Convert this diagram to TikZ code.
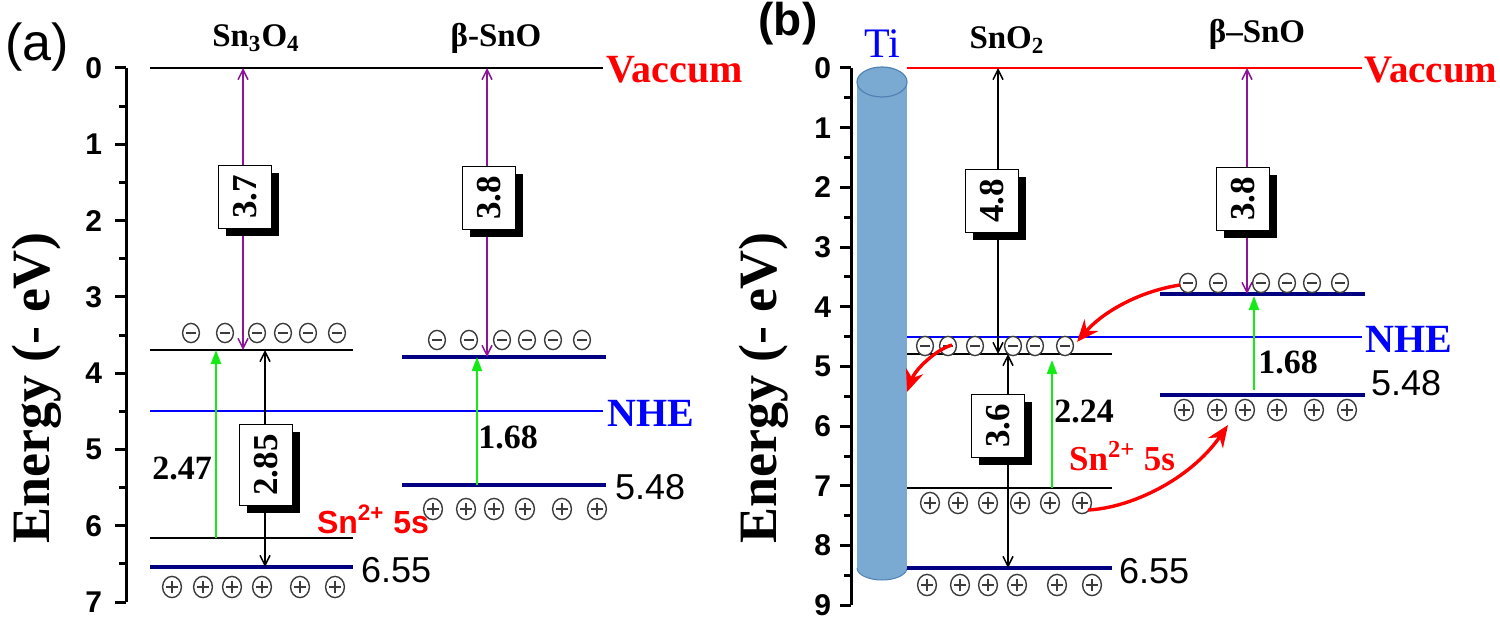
\documentclass[tikz,border=0pt]{standalone}
\usepackage{fontspec}
\setmainfont{Liberation Serif}
\newfontfamily\arial{Liberation Sans}
\usetikzlibrary{arrows.meta,shadows}
\definecolor{navy}{RGB}{0,0,128}
\definecolor{purp}{RGB}{140,20,150}
\definecolor{grn}{RGB}{20,235,20}
\definecolor{tiblue}{RGB}{122,170,210}
\definecolor{tiedge}{RGB}{80,130,180}
\definecolor{symgray}{RGB}{60,60,60}
\tikzset{
  blacklvl/.style={black, line width=1.3pt},
  navylvl/.style={navy, line width=1.6pt},
  reflvl/.style={line width=1pt},
  dblarrow/.style={line width=0.75pt, {Straight Barb[length=5pt,width=5pt]}-{Straight Barb[length=5pt,width=5pt]}},
  greenarrow/.style={grn, line width=1pt, -{Triangle[length=7pt,width=5pt]}},
  redarrow/.style={red, line width=1.7pt, -{Stealth[length=11pt,width=9pt]}},
  numbox/.style={draw, fill=white, line width=0.4pt, font=\bfseries\fontsize{17.5}{17.5}\selectfont,
    inner xsep=3pt, inner ysep=5pt, minimum width=26.5pt,
    drop shadow={shadow xshift=3.8pt, shadow yshift=-3.8pt, fill=black, opacity=1}},
  ticklbl/.style={anchor=east, font=\arial\bfseries\fontsize{15}{15}\selectfont},
  axislbl/.style={rotate=90, font=\bfseries\fontsize{27}{27}\selectfont},
  matlbl/.style={font=\bfseries\fontsize{16.5}{17}\selectfont},
  reflbl/.style={anchor=west, inner sep=0pt, font=\bfseries\fontsize{20}{20}\selectfont},
  vallbl/.style={anchor=west, font=\arial\fontsize{18}{18}\selectfont},
  gaplbl/.style={font=\bfseries\fontsize{17}{17}\selectfont},
  elec/.pic={\draw[symgray, line width=0.7pt, fill=white] (0,0) ellipse [x radius=4.2pt, y radius=4.8pt];
             \draw[symgray, line width=0.7pt] (-2.5pt,0) -- (2.5pt,0);},
  hole/.pic={\draw[symgray, line width=0.7pt, fill=white] (0,0) ellipse [x radius=4.7pt, y radius=5.3pt];
             \draw[symgray, line width=0.7pt] (-3pt,0) -- (3pt,0) (0,-3.2pt) -- (0,3.2pt);},
}
\begin{document}
\begin{tikzpicture}[x=0.5pt, y=-0.5pt]
\useasboundingbox (0,0) rectangle (1500,626);

% ================= panel (a) =================
\node[font=\arial\fontsize{26}{26}\selectfont] (la) at (37,47) {(a)};
\draw[line width=1.5pt] (126,68) -- (126,602);
\foreach \i in {0,...,7}{
  \pgfmathsetmacro\yy{68+76.3*\i}
  \draw[line width=1.5pt] (115,\yy) -- (126,\yy);
  \node[ticklbl] (ta\i) at (109,\yy) {\i};
}
\foreach \i in {0,...,6}{
  \pgfmathsetmacro\yy{68+76.3*(\i+0.5)}
  \draw[line width=1.5pt] (119,\yy) -- (126,\yy);
}
\node[axislbl] (ea) at (37,388) {Energy (- eV)};

\node[matlbl] (m1) at (256,38) {Sn\textsubscript{3}O\textsubscript{4}};
\node[matlbl] (m2) at (496,38) {β-SnO};

% levels
\coordinate (av0) at (150,68);   \coordinate (av1) at (603,68);
\coordinate (an0) at (150,411);  \coordinate (an1) at (603,411);
\coordinate (s1c0) at (150,350); \coordinate (s1c1) at (353,350);
\coordinate (s1s0) at (150,538); \coordinate (s1s1) at (353,538);
\coordinate (s1v0) at (150,567); \coordinate (s1v1) at (353,567);
\coordinate (b1c0) at (402,357); \coordinate (b1c1) at (606,357);
\coordinate (b1v0) at (402,485); \coordinate (b1v1) at (606,485);
\draw[reflvl] (av0) -- (av1);
\draw[reflvl, blue] (an0) -- (an1);
\draw[blacklvl] (s1c0) -- (s1c1);
\draw[blacklvl] (s1s0) -- (s1s1);
\draw[navylvl] (s1v0) -- (s1v1);
\draw[navylvl] (b1c0) -- (b1c1);
\draw[navylvl] (b1v0) -- (b1v1);

\node[reflbl, red] (vaca) at (606,70) {Vaccum};
\node[reflbl, blue] (nhea) at (607,413) {NHE};
\node[vallbl] (v655a) at (354,570) {6.55};
\node[vallbl] (v548a) at (608,487) {5.48};

% arrows
\coordinate (p1t) at (243,68);  \coordinate (p1b) at (243,350);
\coordinate (p2t) at (487,68);  \coordinate (p2b) at (487,357);
\coordinate (k1t) at (265,350); \coordinate (k1b) at (265,567);
\coordinate (g1t) at (216,350); \coordinate (g1b) at (216,538);
\coordinate (g2t) at (477,357); \coordinate (g2b) at (477,485);
\draw[dblarrow, purp] (p1b) -- (p1t);
\draw[dblarrow, purp] (p2b) -- (p2t);
\draw[dblarrow] (k1b) -- (k1t);
\draw[greenarrow] (g1b) -- (g1t);
\draw[greenarrow] (g2b) -- (g2t);

\node[numbox] (box37) at (245,197) {\rotatebox{90}{3.7}};
\node[numbox] (box285) at (266,465) {\rotatebox{90}{2.85}};
\node[numbox] (box38a) at (489,198) {\rotatebox{90}{3.8}};

\node[gaplbl] (g247) at (182,468) {2.47};
\node[gaplbl] (g168a) at (508,437) {1.68};
\node[anchor=base west, red, font=\arial\bfseries\fontsize{16}{16}\selectfont] (sn5a) at (310,533) {Sn\textsuperscript{2+} 5s};

% carriers
\foreach \x in {191,225,257,283,308,337} \pic at (\x,333) {elec};
\foreach \x in {172,203,232,262,300,335} \pic at (\x,587) {hole};
\foreach \x in {437,469,502,527,553,582} \pic at (\x,340) {elec};
\foreach \x in {433,466,494,525,562,597} \pic at (\x,509) {hole};

% ================= panel (b) =================
\node[font=\arial\bfseries\fontsize{23}{23}\selectfont] (lb) at (788,24) {(b)};
\draw[line width=1.5pt] (851,68) -- (851,605);
\foreach \i in {0,...,9}{
  \pgfmathsetmacro\yy{68+59.7*\i}
  \draw[line width=1.5pt] (840,\yy) -- (851,\yy);
  \node[ticklbl] (tb\i) at (838,\yy) {\i};
}
\foreach \i in {0,...,8}{
  \pgfmathsetmacro\yy{68+59.7*(\i+0.5)}
  \draw[line width=1.5pt] (844,\yy) -- (851,\yy);
}
\node[axislbl] (eb) at (764,388) {Energy (- eV)};

% Ti cylinder
\fill[tiblue] (857,82) rectangle (907,568);
\fill[tiblue] (857,568) arc[start angle=180, end angle=360, x radius=12.5pt, y radius=6pt];
\draw[tiedge, line width=0.5pt] (857,568) arc[start angle=180, end angle=360, x radius=12.5pt, y radius=6pt];
\draw[tiedge, line width=0.6pt, fill=tiblue] (882,82) ellipse [x radius=12.5pt, y radius=7.5pt];
\node[blue, font=\fontsize{21}{21}\selectfont] (ti) at (882,44) {Ti};

\node[matlbl] (m3) at (1007,40) {SnO\textsubscript{2}};
\node[matlbl] (m4) at (1257,34) {β–SnO};

\coordinate (bv0) at (907,68);   \coordinate (bv1) at (1362,68);
\coordinate (bn0) at (907,337);  \coordinate (bn1) at (1362,337);
\coordinate (s2c0) at (907,354); \coordinate (s2c1) at (1112,354);
\coordinate (s2s0) at (907,488); \coordinate (s2s1) at (1112,488);
\coordinate (s2v0) at (907,568); \coordinate (s2v1) at (1112,568);
\coordinate (b2c0) at (1160,294); \coordinate (b2c1) at (1365,294);
\coordinate (b2v0) at (1160,395); \coordinate (b2v1) at (1365,395);
\draw[reflvl, red] (bv0) -- (bv1);
\draw[blue, line width=1.4pt] (bn0) -- (bn1);
\draw[blacklvl] (s2c0) -- (s2c1);
\draw[blacklvl] (s2s0) -- (s2s1);
\draw[navylvl] (s2v0) -- (s2v1);
\draw[navylvl] (b2c0) -- (b2c1);
\draw[navylvl] (b2v0) -- (b2v1);

\node[reflbl, red, font=\bfseries\fontsize{19.5}{20}\selectfont] (vacb) at (1364,70) {Vaccum};
\node[reflbl, blue] (nheb) at (1365,339) {NHE};
\node[vallbl] (v655b) at (1112,571) {6.55};
\node[vallbl] (v548b) at (1364,383) {5.48};

\coordinate (k2t) at (998,68);   \coordinate (k2b) at (998,354);
\coordinate (k3t) at (1008,354); \coordinate (k3b) at (1008,568);
\coordinate (p3t) at (1247,68);  \coordinate (p3b) at (1247,294);
\coordinate (g3t) at (1052,360); \coordinate (g3b) at (1052,488);
\coordinate (g4t) at (1254,296); \coordinate (g4b) at (1254,390);
\draw[dblarrow] (k2b) -- (k2t);
\draw[dblarrow] (k3b) -- (k3t);
\draw[dblarrow, purp] (p3b) -- (p3t);
\draw[greenarrow] (g3b) -- (g3t);
\draw[greenarrow] (g4b) -- (g4t);

\node[numbox] (box48) at (992,201) {\rotatebox{90}{4.8}};
\node[numbox] (box36) at (998,426) {\rotatebox{90}{3.6}};
\node[numbox] (box38b) at (1243,199) {\rotatebox{90}{3.8}};

\node[gaplbl] (g224) at (1084,411) {2.24};
\node[gaplbl] (g168b) at (1288,362) {1.68};
\node[anchor=base west, red, font=\bfseries\fontsize{17.5}{17.5}\selectfont] (sn5b) at (1062,470) {Sn\textsuperscript{2+} 5s};

\foreach \x in {925,948,975,1013,1035,1065} \pic at (\x,346) {elec};
\foreach \x in {930,958,988,1020,1050,1082} \pic at (\x,503) {hole};
\foreach \x in {927,960,988,1017,1057,1092} \pic at (\x,585) {hole};
\foreach \x in {1188,1218,1261,1287,1312,1340} \pic at (\x,283) {elec};
\foreach \x in {1184,1217,1245,1277,1314,1347} \pic at (\x,410) {hole};

% red transfer arrows
\coordinate (r1s) at (1180,285); \coordinate (r1e) at (1077,342);
\coordinate (r2s) at (952,345);  \coordinate (r2e) at (907,392);
\coordinate (r3s) at (1088,510); \coordinate (r3e) at (1228,425);
\draw[redarrow] (r1s) .. controls (1135,292) and (1100,315) .. (r1e);
\draw[redarrow] (r2s) .. controls (935,350) and (915,370) .. (r2e);
\draw[redarrow] (r3s) .. controls (1130,508) and (1190,480) .. (r3e);
\end{tikzpicture}
\end{document}
